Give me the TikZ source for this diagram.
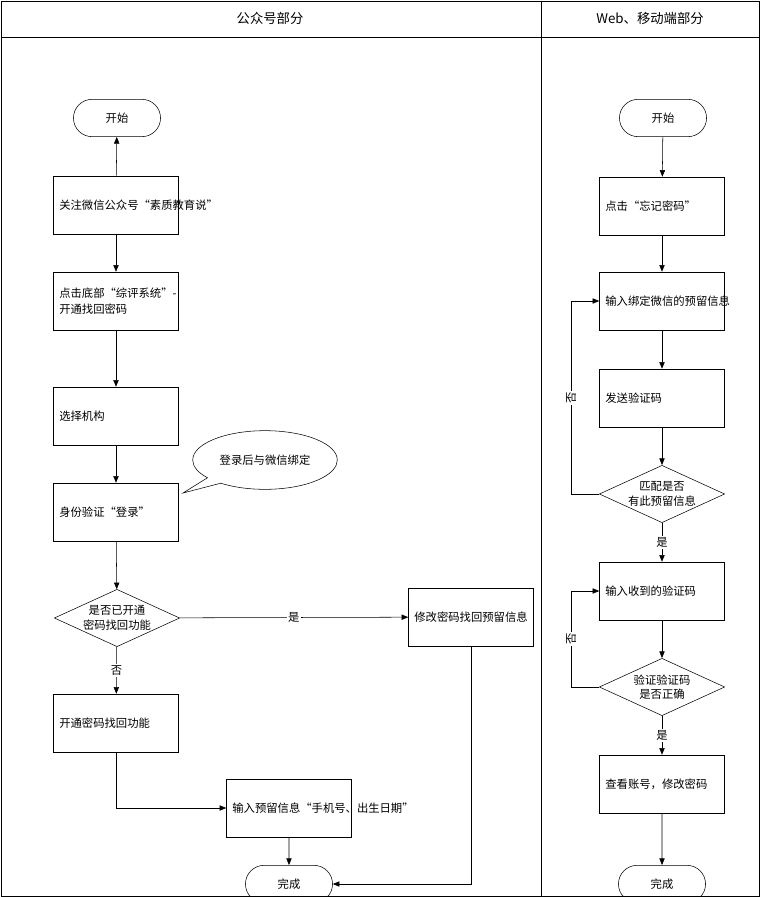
\documentclass[tikz,border=0pt]{standalone}
\usepackage{fontspec}
\setmainfont{Noto Sans CJK SC}
\usetikzlibrary{shapes.geometric,shapes.misc,shapes.callouts,arrows.meta}
\tikzset{
	box/.style={draw, minimum width=93.75pt, minimum height=43.5pt, text width=85pt, align=left, font=\fontsize{8.5}{12}\selectfont},
	term/.style={draw, rounded rectangle, minimum width=72pt, minimum height=28pt, font=\fontsize{8.5}{10}\selectfont},
	dec/.style={draw, diamond, aspect=2.2, minimum width=94pt, minimum height=43pt, inner sep=0pt, align=center, font=\fontsize{8.5}{11}\selectfont},
	lab/.style={fill=white, inner sep=1pt, font=\fontsize{8.5}{10}\selectfont},
	flow/.style={-{Triangle[length=5pt,width=4pt]}}
}
\begin{document}
\begin{tikzpicture}[x=0.75pt, y=-0.75pt]
	% frame and columns
	\useasboundingbox (0,0) rectangle (760,897);
	\draw (1,1) rectangle (759,896);
	\draw (1,37) -- (759,37);
	\draw (541,1) -- (541,896);
	\node[font=\fontsize{10}{12}\selectfont] (hl) at (270,18) {公众号部分};
	\node[font=\fontsize{10}{12}\selectfont] (hr) at (650,18) {Web、移动端部分};

	% left column
	\node[term] (start) at (117,118) {开始};
	\node[box] (follow) at (116,205) {关注微信公众号“素质教育说”};
	\node[box] (click) at (116,301) {点击底部“综评系统”-开通找回密码};
	\node[box] (org) at (116,416) {选择机构};
	\node[box] (login) at (116,512) {身份验证“登录”};
	\node[draw, ellipse callout, minimum width=100pt, minimum height=44pt, text width=70pt, align=center,
		font=\fontsize{8.5}{12}\selectfont, callout absolute pointer={(183,493)}] (note) at (265,460) {登录后与微信绑定};
	\node[dec] (opened) at (117,618) {是否已开通\\密码找回功能};
	\node[box] (enable) at (116,723) {开通密码找回功能};
	\node[box] (info) at (289,808) {输入预留信息“手机号、出生日期”};
	\node[box] (modify) at (471,617) {修改密码找回预留信息};
	\node[term] (done) at (289,884) {完成};

	\draw[flow] (follow) -- (start);
	\draw[flow] (follow) -- (click);
	\draw[flow] (click) -- (org);
	\draw[flow] (org) -- (login);
	\draw[flow] (login) -- (opened);
	\draw[flow] (opened) -- node[lab] {否} (enable);
	\draw[flow] (opened) -- node[lab, pos=0.5] {是} (modify);
	\draw[flow] (enable.south) |- (info.west);
	\draw[flow] (info) -- (done);
	\draw[flow] (modify.south) |- (done.east);

	% right column
	\node[term] (rstart) at (663,118) {开始};
	\node[box] (forget) at (662,206) {点击“忘记密码”};
	\node[box] (bind) at (662,301) {输入绑定微信的预留信息};
	\node[box] (send) at (662,398) {发送验证码};
	\node[dec] (match) at (662,494) {匹配是否\\有此预留信息};
	\node[box] (code) at (662,591) {输入收到的验证码};
	\node[dec] (check) at (662,687) {验证验证码\\是否正确};
	\node[box] (view) at (662,784) {查看账号，修改密码};
	\node[term] (rdone) at (662,884) {完成};

	\draw[flow] (rstart) -- (forget);
	\draw[flow] (forget) -- (bind);
	\draw[flow] (bind) -- (send);
	\draw[flow] (send) -- (match);
	\draw[flow] (match) -- node[lab] {是} (code);
	\draw[flow] (code) -- (check);
	\draw[flow] (check) -- node[lab] {是} (view);
	\draw[flow] (view) -- (rdone);
	\draw[flow] (match.west) -- ++(-28,0) |- node[lab, rotate=90, pos=0.25] {否} (bind.west);
	\draw[flow] (check.west) -- ++(-28,0) |- node[lab, rotate=90, pos=0.25] {否} (code.west);
\end{tikzpicture}
\end{document}
